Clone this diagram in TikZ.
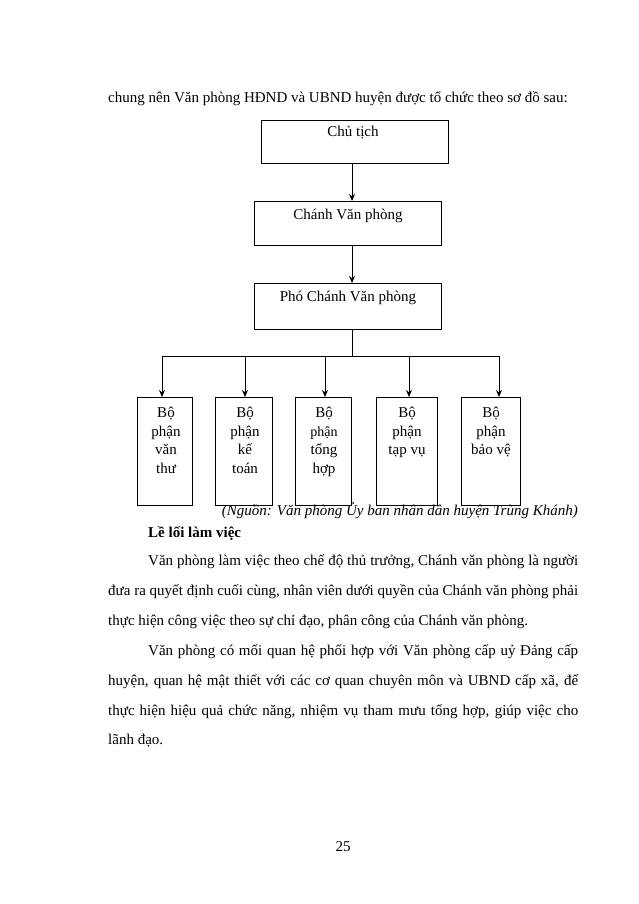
\documentclass[tikz,border=0pt]{standalone}
\usepackage{fontspec}
\setmainfont{Liberation Serif}
\usetikzlibrary{arrows.meta}
\begin{document}
\begin{tikzpicture}[x=1pt,y=-1pt,
  every node/.style={inner sep=0pt, font=\fontsize{15}{18.5}\selectfont},
  txt/.style={anchor=base west},
  box/.style={draw, line width=0.9pt, anchor=north west, inner sep=0pt},
  boxtxt/.style={anchor=base, align=center},
  conn/.style={line width=0.9pt},
  arr/.style={line width=0.9pt, -{Stealth[length=7pt,width=6pt]}}]
\useasboundingbox[fill=white] (0,0) rectangle (638,904);

% top paragraph line
\node[txt] (l0) at (108,103) {chung nên Văn phòng HĐND và UBND huyện được tổ chức theo sơ đồ sau:};

% main boxes
\node[box, minimum width=187pt, minimum height=43pt] (ct) at (261,120) {};
\node[boxtxt] (ctt) at (353,137) {Chủ tịch};
\node[box, minimum width=187pt, minimum height=44pt] (cvp) at (254,201) {};
\node[boxtxt] (cvpt) at (348,219) {Chánh Văn phòng};
\node[box, minimum width=187pt, minimum height=46pt] (pcvp) at (254,283) {};
\node[boxtxt] (pcvpt) at (348,301) {Phó Chánh Văn phòng};

\draw[arr] (ct.south -| 352,0) -- (cvp.north -| 352,0);
\draw[arr] (cvp.south -| 352,0) -- (pcvp.north -| 352,0);

% bottom boxes
\node[box, minimum width=55pt, minimum height=108pt] (b1) at (137,397) {};
\node[box, minimum width=57pt, minimum height=108pt] (b2) at (215,397) {};
\node[box, minimum width=56pt, minimum height=108pt] (b3) at (295,397) {};
\node[box, minimum width=61pt, minimum height=108pt] (b4) at (376,397) {};
\node[box, minimum width=59pt, minimum height=108pt] (b5) at (461,397) {};

% anchor=base is the baseline of the last line
\node[boxtxt] (b1t) at (166,473) {Bộ\\phận\\văn\\thư};
\node[boxtxt] (b2t) at (245,473) {Bộ\\phận\\kế\\toán};
\node[boxtxt] (b3t) at (324,473) {Bộ\\{\fontsize{14}{18.5}\selectfont phận}\\tổng\\hợp};
\node[boxtxt] (b4t) at (407,454.5) {Bộ\\phận\\tạp vụ};
\node[boxtxt] (b5t) at (491,454.5) {Bộ\\phận\\bảo vệ};

\coordinate (hub) at (352,356);
\coordinate (hl) at (162,356);
\coordinate (hr) at (499,356);
\draw[conn] (pcvp.south -| hub) -- (hub);
\draw[conn] (hl) -- (hr);
\draw[arr] (hl) -- (b1.north -| hl);
\draw[arr] (245,356) -- (b2.north -| 245,0);
\draw[arr] (325,356) -- (b3.north -| 325,0);
\draw[arr] (409,356) -- (b4.north -| 409,0);
\draw[arr] (hr) -- (b5.north -| hr);

% caption
\node[anchor=base east, font=\fontsize{15}{18}\selectfont\itshape] (src) at (578,515) {(Nguồn: Văn phòng Ủy ban nhân dân huyện Trùng Khánh)};

% body text
\node[txt, font=\fontsize{15}{18}\selectfont\bfseries] (h) at (148,537) {Lề lối làm việc};
\node[txt] (p1) at (148,565) {\makebox[430pt][s]{Văn phòng làm việc theo chế độ thủ trưởng, Chánh văn phòng là người}};
\node[txt] (p2) at (108,595) {\makebox[470pt][s]{đưa ra quyết định cuối cùng, nhân viên dưới quyền của Chánh văn phòng phải}};
\node[txt] (p3) at (108,625) {thực hiện công việc theo sự chỉ đạo, phân công của Chánh văn phòng.};
\node[txt] (p4) at (148,655) {\makebox[430pt][s]{Văn phòng có mối quan hệ phối hợp với Văn phòng cấp uỷ Đảng cấp}};
\node[txt] (p5) at (108,685) {\makebox[470pt][s]{huyện, quan hệ mật thiết với các cơ quan chuyên môn và UBND cấp xã, để}};
\node[txt] (p6) at (108,715) {\makebox[470pt][s]{thực hiện hiệu quả chức năng, nhiệm vụ tham mưu tổng hợp, giúp việc cho}};
\node[txt] (p7) at (108,744) {lãnh đạo.};

\node[anchor=base] (pg) at (343,851) {25};
\end{tikzpicture}
\end{document}
